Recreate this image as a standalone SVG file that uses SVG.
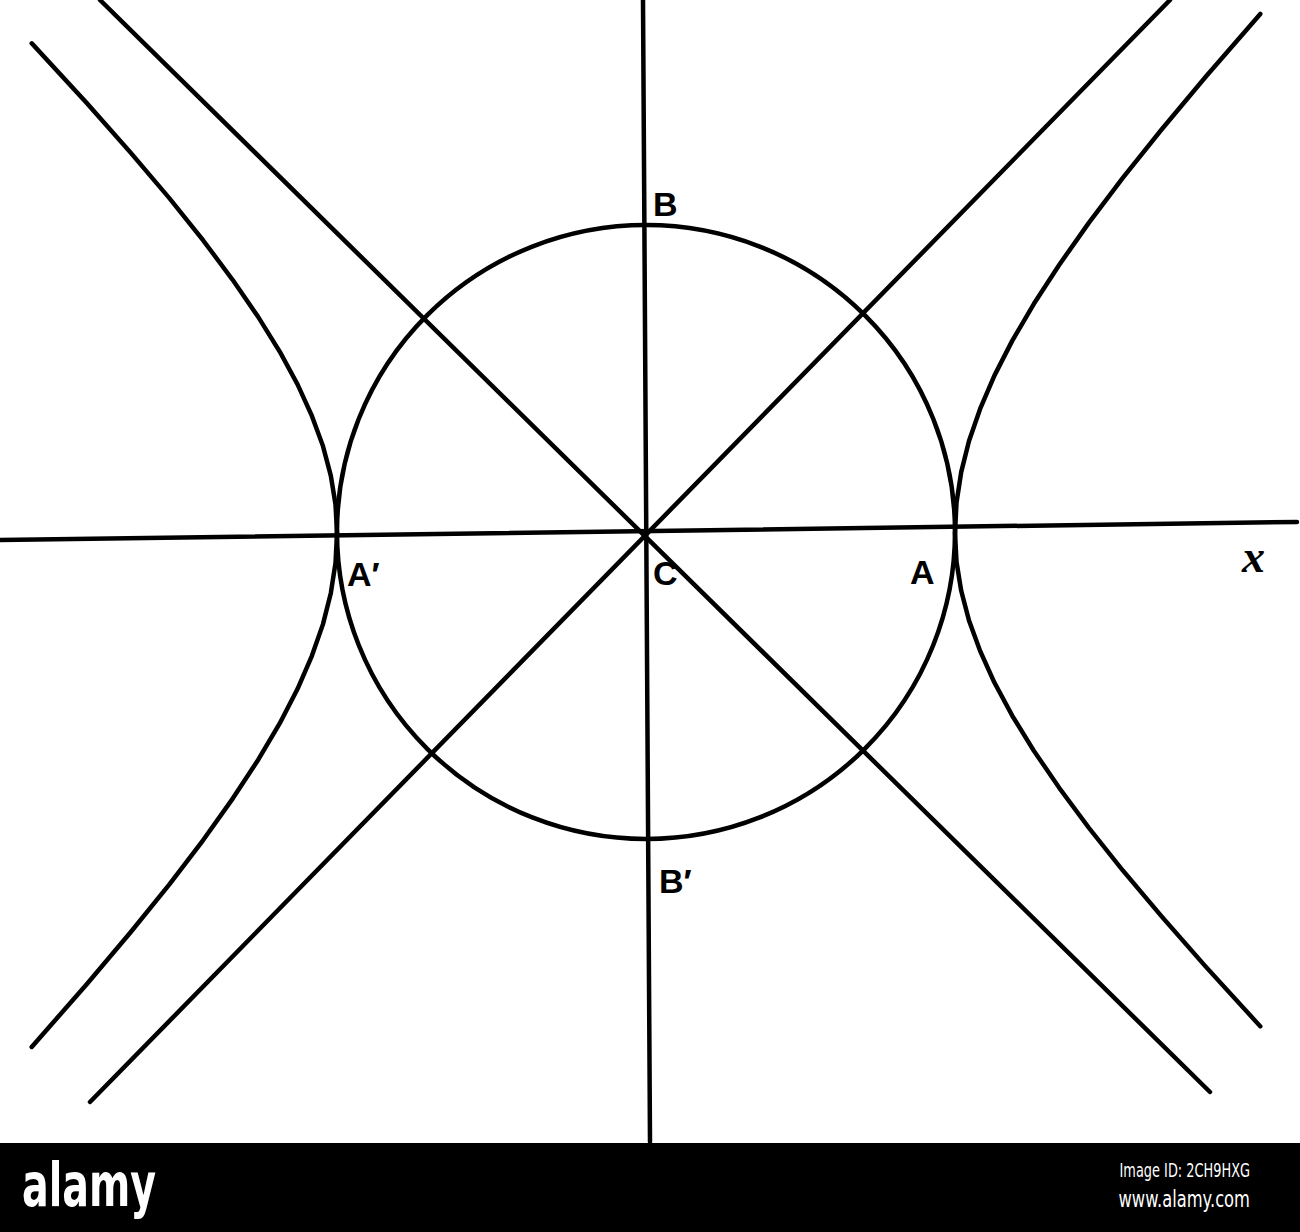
<svg xmlns="http://www.w3.org/2000/svg" xmlns:xlink="http://www.w3.org/1999/xlink" width="1300" height="1232" viewBox="0 0 1300 1232">
<style>
.ln{stroke:#000;stroke-width:4.5;fill:none;stroke-linecap:round;stroke-linejoin:round}
.lbl{font-family:"Liberation Sans",Arial,sans-serif;font-weight:bold;font-size:34px;fill:#000}
.wm{font-family:"DejaVu Sans","Liberation Sans",sans-serif;fill:#fff}
</style>
<defs>
<path id="q" d="M614.3,-515.5 L559.5,-452.9 L515.6,-400.7 L476.8,-352.6 L442.8,-308 L413.3,-266.4 L387.9,-227.6 L366.3,-191 L348.4,-156.3 L334.1,-123.2 L323,-91.4 L315.2,-60.4 L310.5,-30.1 L309,0"/>
</defs>
<rect x="0" y="0" width="1300" height="1232" fill="#fff"/>
<g id="connectors">
<line class="ln" x1="0" y1="540" x2="1297" y2="522"/>
<line class="ln" x1="643" y1="0" x2="650" y2="1142"/>
<line class="ln" x1="100" y1="0" x2="1210" y2="1092"/>
<line class="ln" x1="1170" y1="0" x2="90" y2="1102"/>
</g>
<g id="circle">
<ellipse class="ln" cx="646" cy="532" rx="309" ry="307"/>
</g>
<g id="hyperbola" transform="translate(646,533)">
<use xlink:href="#q" class="ln" transform="scale(1,1.007)"/>
<use xlink:href="#q" class="ln" transform="scale(1,-0.957)"/>
<use xlink:href="#q" class="ln" transform="scale(-1,0.95)"/>
<use xlink:href="#q" class="ln" transform="scale(-1,-0.997)"/>
</g>
<g id="label-B"><text class="lbl" x="653" y="216">B</text></g>
<g id="label-B2"><text class="lbl" x="659" y="893">B′</text></g>
<g id="label-A2"><text class="lbl" x="347" y="586">A′</text></g>
<g id="label-C"><text class="lbl" x="653" y="585">C</text></g>
<g id="label-A"><text class="lbl" x="910" y="584">A</text></g>
<g id="label-x"><text x="1242" y="572" font-family="Liberation Serif,serif" font-style="italic" font-weight="bold" font-size="46" fill="#000">x</text></g>
<g id="watermark">
<rect x="0" y="1143" width="1300" height="89" fill="#000"/>
<text class="wm" font-size="60" font-weight="bold" transform="translate(22,1206) scale(0.66,1)">alamy</text>
<text class="wm" font-size="19" text-anchor="end" transform="translate(1250,1177) scale(0.68,1)">Image ID: 2CH9HXG</text>
<text class="wm" font-size="23" text-anchor="end" transform="translate(1250,1207) scale(0.71,1)">www.alamy.com</text>
</g>
</svg>
